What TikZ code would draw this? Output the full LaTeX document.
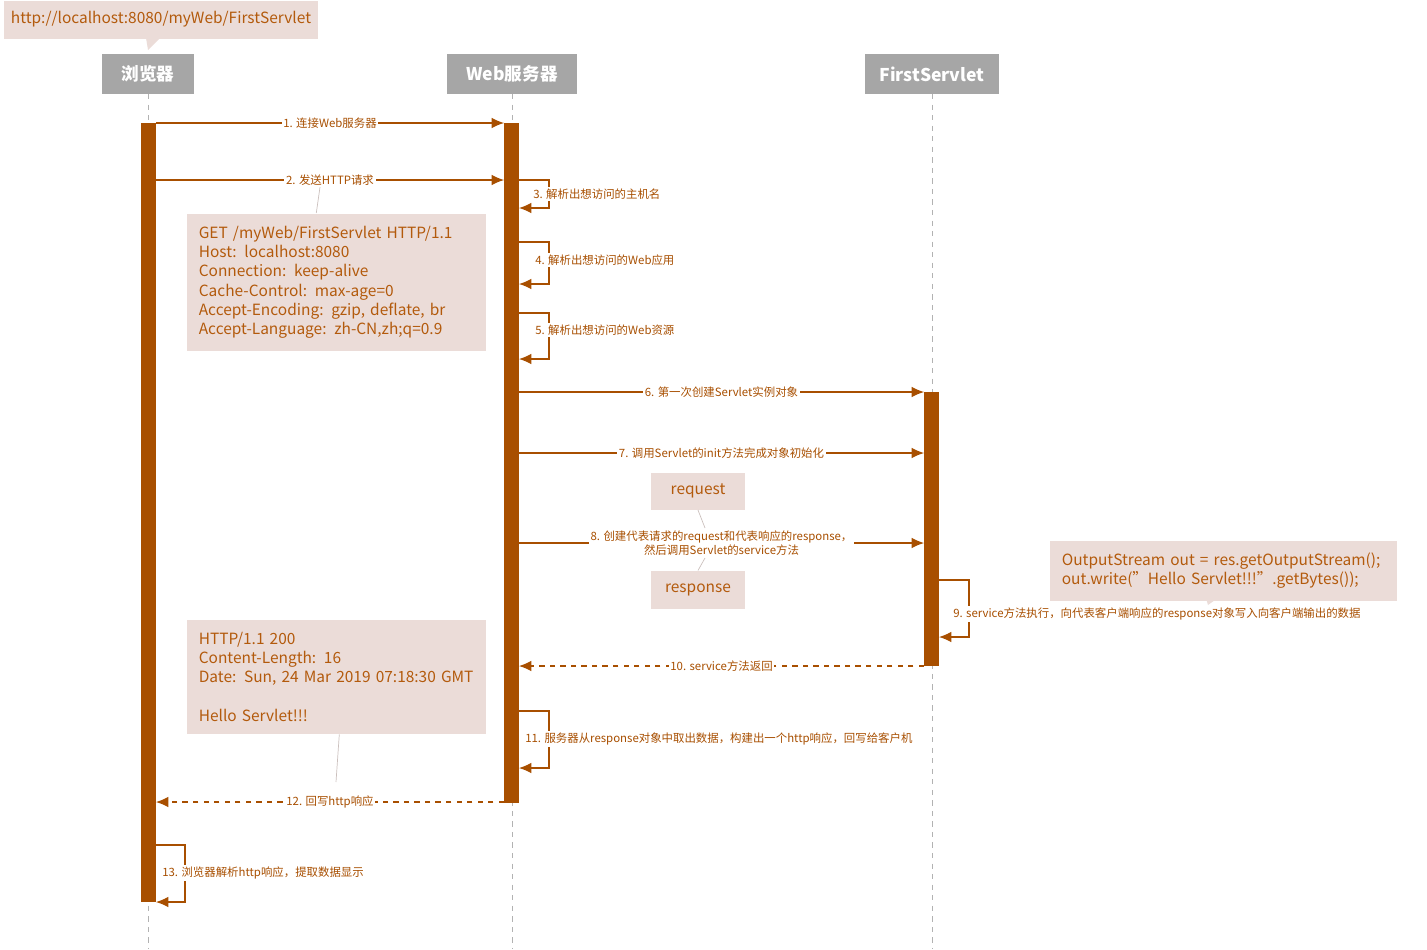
\documentclass[tikz,border=0pt]{standalone}
\usepackage{fontspec}
\setmainfont{Noto Sans CJK SC}
\usetikzlibrary{arrows.meta,positioning}
\definecolor{brn}{HTML}{A84F00}
\definecolor{txt}{HTML}{B35A0C}
\definecolor{notebg}{HTML}{EBDCD8}
\definecolor{hdr}{HTML}{A6A6A6}
\begin{document}
\begin{tikzpicture}[x=0.02cm,y=-0.02cm,>={Latex[length=7pt,width=6pt]},semithick]
  \tikzstyle{every node}=[inner sep=1pt]
  \tikzstyle{head}=[fill=hdr,text=white,font=\bfseries\fontsize{10}{12}\selectfont,minimum height=0.8cm,inner xsep=8pt]
  \tikzstyle{bar}=[fill=brn,draw=none]
  \tikzstyle{msg}=[->,draw=brn,line width=0.6pt]
  \tikzstyle{ret}=[msg,dashed]
  \tikzstyle{lbl}=[fill=white,text=brn,font=\fontsize{6.5}{8}\selectfont]
  \tikzstyle{note}=[fill=notebg,text=txt,font=\fontsize{8.8}{11}\selectfont,align=left,anchor=north west,inner sep=7pt,text width=#1]
  \tikzstyle{life}=[draw=gray!60,dashed,thin]
  \tikzstyle{tie}=[draw=notebg!70!gray,thin]
  \useasboundingbox (0,0) rectangle (1427,950);
  % lifelines
  \draw[life] (148,94) -- (148,948);
  \draw[life] (512,94) -- (512,948);
  \draw[life] (932,94) -- (932,948);
  % heads
  \node[head,minimum width=1.84cm] (browser) at (148,74) {浏览器};
  \node[head,minimum width=2.6cm] (web) at (512,74) {Web服务器};
  \node[head,minimum width=2.62cm] (servlet) at (932,74) {FirstServlet};
  \node[fill=notebg,text=txt,font=\fontsize{8.8}{11}\selectfont,anchor=north west,minimum width=6.3cm,minimum height=0.76cm] (url) at (3,0) {http://localhost:8080/myWeb/FirstServlet};
  \fill[notebg] (146,38) -- (160,38) -- (148,50) -- cycle;
  % activation bars
  \fill[bar] (141,123) rectangle (156,902);
  \fill[bar] (504,123) rectangle (519,803);
  \fill[bar] (924,392) rectangle (939,666);
  % notes
  \node[note=5.5cm] (get) at (186,213) {GET /myWeb/FirstServlet HTTP/1.1\\Host: localhost:8080\\Connection: keep-alive\\Cache-Control: max-age=0\\Accept-Encoding: gzip, deflate, br\\Accept-Language: zh-CN,zh;q=0.9};
  \node[note=5.5cm] (resp) at (186,619) {HTTP/1.1 200\\Content-Length: 16\\Date: Sun, 24 Mar 2019 07:18:30 GMT\\[11pt]Hello Servlet!!!};
  \node[note=6.45cm] (code) at (1049,540) {OutputStream out = res.getOutputStream();\\out.write("Hello Servlet!!!".getBytes());};
  \fill[notebg] (1205,595) -- (1222,595) -- (1208,605) -- cycle;
  \node[fill=notebg,text=txt,font=\fontsize{8.8}{11}\selectfont,minimum width=1.9cm,minimum height=0.74cm] (req) at (698,491) {request};
  \node[fill=notebg,text=txt,font=\fontsize{8.8}{11}\selectfont,minimum width=1.9cm,minimum height=0.76cm] (rsp) at (698,590) {response};
  \draw[tie] (get.north) ++(-20,0) -- (320,187);
  \draw[tie] (resp.south) ++(3,0) -- (336,782);
  \draw[tie] (req.south) -- (705,528);
  \draw[tie] (rsp.north) -- (705,558);
  % messages
  \draw[msg] (156,123) -- node[lbl] {1. 连接Web服务器} (504,123);
  \draw[msg] (156,180) -- node[lbl] {2. 发送HTTP请求} (504,180);
  \draw[msg] (519,180) -| (549,208) -- (519,208);
  \node[lbl,anchor=west] (m3) at (531,194) {3. 解析出想访问的主机名};
  \draw[msg] (519,242) -| (549,284) -- (519,284);
  \node[lbl,anchor=west] (m4) at (533,260) {4. 解析出想访问的Web应用};
  \draw[msg] (519,313) -| (549,359) -- (519,359);
  \node[lbl,anchor=west] (m5) at (533,330) {5. 解析出想访问的Web资源};
  \draw[msg] (519,392) -- node[lbl] {6. 第一次创建Servlet实例对象} (924,392);
  \draw[msg] (519,453) -- node[lbl] {7. 调用Servlet的init方法完成对象初始化} (924,453);
  \draw[msg] (519,543) -- node[lbl,align=center] {8. 创建代表请求的request和代表响应的response，\\然后调用Servlet的service方法} (924,543);
  \draw[msg] (939,580) -| (969,637) -- (939,637);
  \node[lbl,anchor=west] (m9) at (951,614) {9. service方法执行，向代表客户端响应的response对象写入向客户端输出的数据};
  \draw[ret] (924,666) -- node[lbl] {10. service方法返回} (519,666);
  \draw[msg] (519,711) -| (549,768) -- (519,768);
  \node[lbl,anchor=west] (m11) at (523,739) {11. 服务器从response对象中取出数据，构建出一个http响应，回写给客户机};
  \draw[ret] (504,802) -- node[lbl] {12. 回写http响应} (156,802);
  \draw[msg] (156,845) -| (185,902) -- (156,902);
  \node[lbl,anchor=west] (m13) at (160,873) {13. 浏览器解析http响应，提取数据显示};
\end{tikzpicture}
\end{document}
